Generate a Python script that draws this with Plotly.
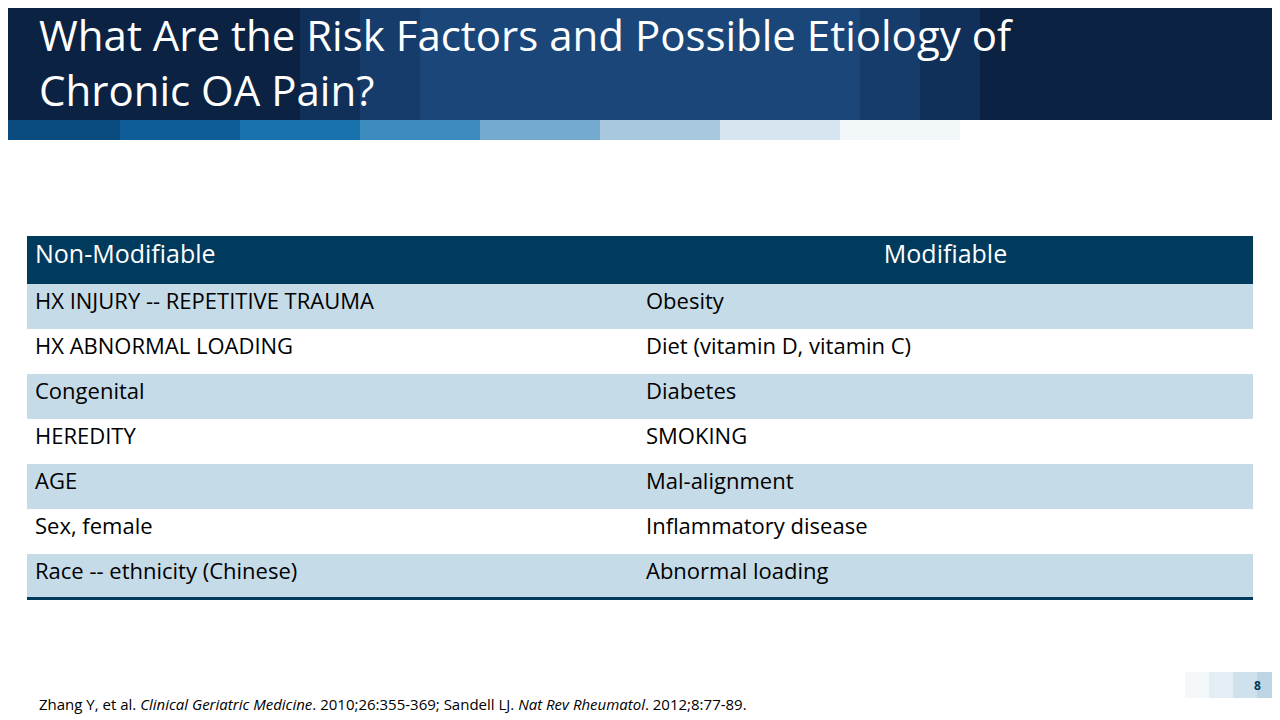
import plotly.graph_objects as go

title_text = "What Are the Risk Factors and Possible Etiology of<br>Chronic OA Pain?"
col_headers = ["Non-Modifiable", "Modifiable"]
non_modifiable = ["HX INJURY -- REPETITIVE TRAUMA", "HX ABNORMAL LOADING", "Congenital",
                  "HEREDITY", "AGE", "Sex, female", "Race -- ethnicity (Chinese)"]
modifiable = ["Obesity", "Diet (vitamin D, vitamin C)", "Diabetes", "SMOKING",
              "Mal-alignment", "Inflammatory disease", "Abnormal loading"]
footnote = ("Zhang Y, et al. <i>Clinical Geriatric Medicine</i>. 2010;26:355-369; "
            "Sandell LJ. <i>Nat Rev Rheumatol</i>. 2012;8:77-89.")
page_num = "8"

W, H = 1280, 720
OFF = 8  # page body margin shifts the figure by this much

def fx(x):
    return (x - OFF) / W

def fy(y):
    return 1 - (y - OFF) / H

row_fill = ["#C5DBE8" if i % 2 == 0 else "white" for i in range(len(modifiable))]

fig = go.Figure(go.Table(
    columnwidth=[611, 615],
    header=dict(values=col_headers, fill_color="#003A5C", align=["left", "center"],
                font=dict(family="Open Sans", size=25, color="white"), height=48,
                line=dict(width=0, color="white")),
    cells=dict(values=[non_modifiable, modifiable], fill_color=[row_fill, row_fill],
               align="left", font=dict(family="Open Sans", size=22, color="black"),
               height=45, line=dict(width=0, color="white")),
    domain=dict(x=[fx(27), fx(1253)], y=[fy(620), fy(236)]),
))

def px_rect(x0, y0, x1, y1, color, layer="below"):
    return dict(type="rect", xref="paper", yref="paper", x0=fx(x0), x1=fx(x1),
                y0=fy(y1), y1=fy(y0), fillcolor=color, line_width=0, layer=layer)

shapes = [px_rect(0, 0, 1300, 120, "#0B2242")]
for i, c in enumerate(["#10305A", "#163C6C", "#1B4679"]):
    shapes.append(px_rect(300 + i * 60, 0, 980 - i * 60, 120, c))
strip = ["#0A4C80", "#0E5D97", "#1872AD", "#3E8CBD", "#74AACD", "#A8C8DE", "#D6E5EF", "#F2F7FA"]
for i, c in enumerate(strip):
    shapes.append(px_rect(i * 120, 120, (i + 1) * 120, 140, c))
shapes.append(px_rect(27, 597, 1253, 600, "#003A5C", layer="above"))
for i, c in enumerate(["#F4F8FB", "#E2EDF4", "#CFE1EC", "#BDD5E5"]):
    shapes.append(px_rect(1185 + i * 24, 672, 1300, 698, c))

fig.update_layout(
    width=W, height=H, margin=dict(l=0, r=0, t=0, b=0),
    paper_bgcolor="white", plot_bgcolor="white", shapes=shapes,
    annotations=[
        dict(text=title_text, x=fx(37), y=fy(4), xref="paper", yref="paper",
             xanchor="left", yanchor="top", showarrow=False, align="left",
             font=dict(family="Open Sans", size=42, color="white")),
        dict(text=footnote, x=fx(37), y=fy(704), xref="paper", yref="paper",
             xanchor="left", yanchor="middle", showarrow=False,
             font=dict(family="Open Sans", size=15, color="black")),
        dict(text="<b>" + page_num + "</b>", x=fx(1257), y=fy(685), xref="paper", yref="paper",
             xanchor="center", yanchor="middle", showarrow=False,
             font=dict(family="Open Sans", size=12, color="#003A5C")),
    ],
)
fig.write_html("out.html")
